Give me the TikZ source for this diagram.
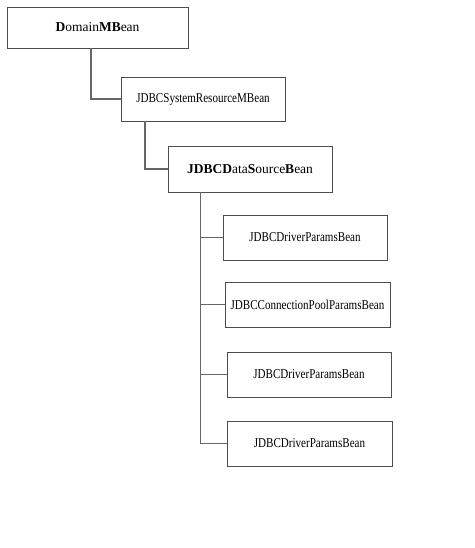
\documentclass[tikz,border=0pt]{standalone}
\usepackage{fontspec}
\setmainfont{Liberation Serif}
\newfontfamily\condfont[FakeStretch=0.82]{Liberation Serif}
\begin{document}
\begin{tikzpicture}[x=1pt,y=-1pt,
  beanbox/.style={draw=black!70,line width=0.9pt,fill=white,inner sep=0pt,
    minimum width=164pt,minimum height=45pt,font=\condfont\fontsize{13.5}{14}\selectfont},
  topbox/.style={beanbox,font=\fontsize{13.5}{14}\selectfont},
  link/.style={draw=black!60,line width=1.1pt}]
\useasboundingbox (0,0) rectangle (474,548);
\node[topbox,minimum width=181pt,minimum height=41pt] (b1) at (97.5,27.5) {\textbf{D}omain\textbf{MB}ean};
\node[beanbox,minimum height=44pt] (b2) at (203,99) {JDBCSystemResourceMBean};
\node[topbox,minimum height=46pt] (b3) at (250,169) {\textbf{JDBCD}ata\textbf{S}ource\textbf{B}ean};
\node[beanbox] (b4) at (305,237.5) {JDBCDriverParamsBean};
\node[beanbox,minimum width=165pt] (b5) at (307.5,304.5) {JDBCConnectionPoolParamsBean};
\node[beanbox] (b6) at (309,374.5) {JDBCDriverParamsBean};
\node[beanbox,minimum width=165pt] (b7) at (309.5,443.5) {JDBCDriverParamsBean};
\coordinate (t1) at ([xshift=-6.5pt]b1.south);
\coordinate (t2) at ([xshift=-58pt]b2.south);
\coordinate (t3) at ([xshift=-49.5pt]b3.south);
\draw[link] (t1) |- (b2.west);
\draw[link] (t2) |- (b3.west);
\draw[link] (t3) |- (b7.west);
\draw[link] (t3 |- b4.west) -- (b4.west);
\draw[link] (t3 |- b5.west) -- (b5.west);
\draw[link] (t3 |- b6.west) -- (b6.west);
\end{tikzpicture}
\end{document}
